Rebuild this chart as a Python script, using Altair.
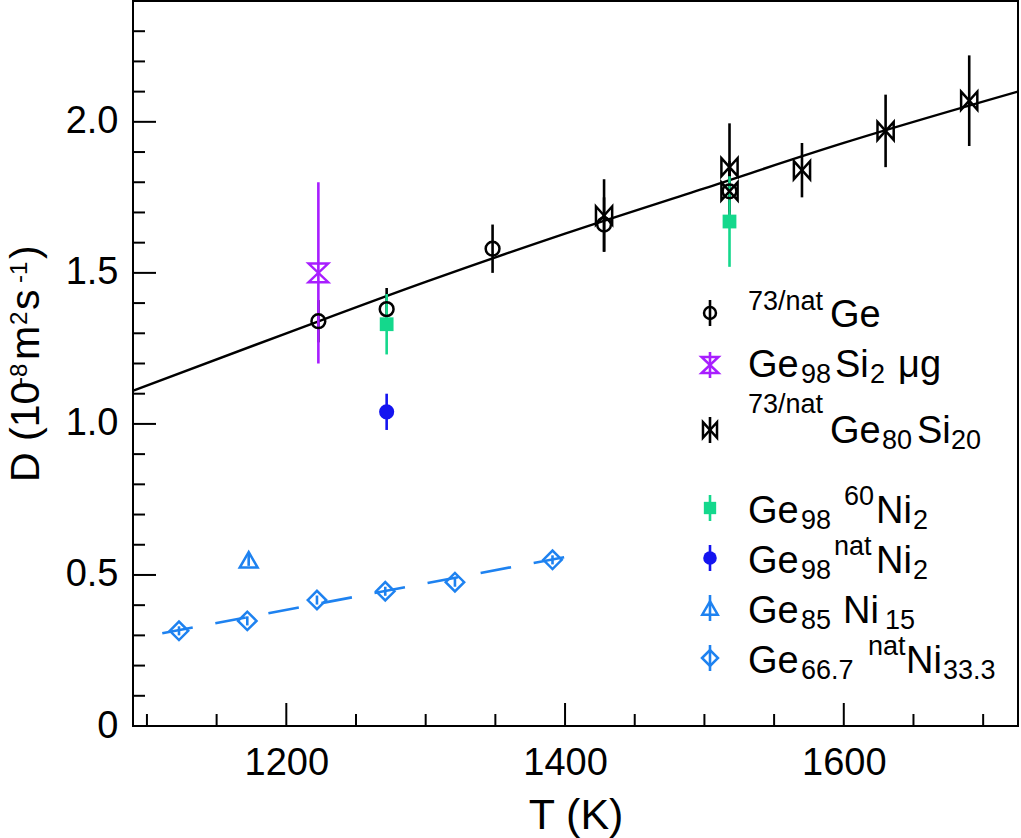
import altair as alt
import pandas as pd

FONT = "Liberation Sans"

# ---------------- data ----------------
ge_T = [1223, 1272, 1348, 1428, 1518]
ge_D = [1.34, 1.38, 1.58, 1.66, 1.77]
ge_err = [0.07, 0.07, 0.08, 0.09, 0.07]

gesi2_T = [1223]
gesi2_D = [1.50]
gesi2_err = [0.30]

gesi20_T = [1428, 1518, 1518, 1570, 1630, 1690]
gesi20_D = [1.69, 1.85, 1.77, 1.84, 1.97, 2.07]
gesi20_err = [0.12, 0.145, 0.10, 0.09, 0.12, 0.15]

ni60_T = [1272, 1518]
ni60_D = [1.33, 1.67]
ni60_err = [0.10, 0.15]

ninat_T = [1272]
ninat_D = [1.04]
ninat_err = [0.06]

ni15_T = [1173]
ni15_D = [0.55]
ni15_err = [0.02]

ni33_T = [1123, 1172, 1222, 1271, 1321, 1391]
ni33_D = [0.315, 0.348, 0.417, 0.446, 0.476, 0.55]
ni33_err = [0.015, 0.015, 0.015, 0.015, 0.015, 0.015]

fit_T = [1090, 1200, 1300, 1400, 1500, 1600, 1725]
fit_D = [1.11, 1.30, 1.47, 1.63, 1.78, 1.93, 2.10]

nifit_T = [1111, 1411]
nifit_D = [0.307, 0.569]

x_major = [1200, 1400, 1600]
x_minor = [1100, 1150, 1250, 1300, 1350, 1450, 1500, 1550, 1650, 1700]
y_major = [0.5, 1.0, 1.5, 2.0]
y_minor = [0.1, 0.2, 0.3, 0.4, 0.6, 0.7, 0.8, 0.9, 1.1, 1.2, 1.3, 1.4,
           1.6, 1.7, 1.8, 1.9, 2.1, 2.2, 2.3]
y_labels = [0, 0.5, 1.0, 1.5, 2.0]

# ---------------- styles ----------------
BLACK = "#000000"
PURPLE = "#A81EFF"
GREEN = "#14D88C"
BLUE = "#1414F0"
LBLUE = "#1E82F0"
HOURGLASS = "M-1,-0.95L1,-0.95L-1,0.95L1,0.95Z"
BOWTIE = "M-0.9,-1L0.9,1L0.9,-1L-0.9,1Z"

series = [
    ("ge", ge_T, ge_D, ge_err, "circle", BLACK, False, 190),
    ("gesi2", gesi2_T, gesi2_D, gesi2_err, HOURGLASS, PURPLE, False, 380),
    ("gesi20", gesi20_T, gesi20_D, gesi20_err, BOWTIE, BLACK, False, 324),
    ("ni60", ni60_T, ni60_D, ni60_err, "square", GREEN, True, 190),
    ("ninat", ninat_T, ninat_D, ninat_err, "circle", BLUE, True, 230),
    ("ni15", ni15_T, ni15_D, ni15_err, "triangle-up", LBLUE, False, 320),
    ("ni33", ni33_T, ni33_D, ni33_err, "diamond", LBLUE, False, 340),
]

W, H = 885, 725
L, T = 133, 1

xs = alt.Scale(domain=[1090, 1725], nice=False, zero=False)
ys = alt.Scale(domain=[0, 2.4], nice=False, zero=False)

xaxis = alt.Axis(values=x_major, format="d", labelFontSize=38, labelPadding=18,
                 ticks=False, domain=False, grid=False, labelFont=FONT,
                 titleFont=FONT, titleFontSize=43, titleFontWeight="normal",
                 titlePadding=12, labelColor="black", titleColor="black",
                 labelFlush=False)
yaxis = alt.Axis(values=y_labels,
                 labelExpr="datum.value == 0 ? '0' : format(datum.value, '.1f')",
                 labelFontSize=38, labelPadding=15, ticks=False, domain=False,
                 grid=False, labelFont=FONT, labelColor="black", labelFlush=False)


def X(f):
    return alt.X(f, type="quantitative", scale=xs, axis=xaxis, title="T (K)")


def Y(f):
    return alt.Y(f, type="quantitative", scale=ys, axis=yaxis, title=None)


layers = []

# inward ticks
layers.append(alt.Chart(pd.DataFrame({"v": x_major})).mark_rule(color="black", strokeWidth=2)
              .encode(x=X("v"), y=alt.value(H), y2=alt.value(H - 23)))
layers.append(alt.Chart(pd.DataFrame({"v": x_minor})).mark_rule(color="black", strokeWidth=2)
              .encode(x=X("v"), y=alt.value(H), y2=alt.value(H - 12)))
layers.append(alt.Chart(pd.DataFrame({"v": y_major})).mark_rule(color="black", strokeWidth=2)
              .encode(y=Y("v"), x=alt.value(0), x2=alt.value(23)))
layers.append(alt.Chart(pd.DataFrame({"v": y_minor})).mark_rule(color="black", strokeWidth=2)
              .encode(y=Y("v"), x=alt.value(0), x2=alt.value(12)))

# fit lines
layers.append(alt.Chart(pd.DataFrame({"T": fit_T, "D": fit_D}))
              .mark_line(color="black", strokeWidth=2.4, interpolate="monotone")
              .encode(x=X("T"), y=Y("D")))
layers.append(alt.Chart(pd.DataFrame({"T": nifit_T, "D": nifit_D}))
              .mark_line(color=LBLUE, strokeWidth=2.6, strokeDash=[31, 23])
              .encode(x=X("T"), y=Y("D")))

# error bars and points
for name, Ts, Ds, Es, shape, color, filled, size in series:
    df = pd.DataFrame({"T": Ts, "D": Ds, "E": Es})
    df["lo"] = df["D"] - df["E"]
    df["hi"] = df["D"] + df["E"]
    layers.append(alt.Chart(df).mark_rule(color=color, strokeWidth=2.6)
                  .encode(x=X("T"), y=Y("lo"), y2="hi"))
for name, Ts, Ds, Es, shape, color, filled, size in series:
    df = pd.DataFrame({"T": Ts, "D": Ds})
    if filled:
        mk = alt.Chart(df).mark_point(shape=shape, color=color, filled=True,
                                      size=size, opacity=1)
    else:
        mk = alt.Chart(df).mark_point(shape=shape, color=color, filled=False,
                                      size=size, strokeWidth=2.5, opacity=1)
    layers.append(mk.encode(x=X("T"), y=Y("D")))

# ---------------- legend ----------------
dummy = alt.Data(values=[{"k": 0}])
leg_y = [313, 365, 430, 508, 558, 608, 658]
leg_x = 710
for (name, Ts, Ds, Es, shape, color, filled, size), ly in zip(series, leg_y):
    layers.append(alt.Chart(dummy).mark_rule(color=color, strokeWidth=2.6)
                  .encode(x=alt.value(leg_x - L), y=alt.value(ly - T - 13),
                          y2=alt.value(ly - T + 13)))
    if filled:
        mk = alt.Chart(dummy).mark_point(shape=shape, color=color, filled=True,
                                         size=size * 0.8, opacity=1)
    else:
        mk = alt.Chart(dummy).mark_point(shape=shape, color=color, filled=False,
                                         size=size * 0.75, strokeWidth=2.5, opacity=1)
    layers.append(mk.encode(x=alt.value(leg_x - L), y=alt.value(ly - T)))

MAIN, SMALL = 38, 27
legend_segments = [
    ("73/nat", 748, 310, SMALL), ("Ge", 830, 327, MAIN),
    ("Ge", 748, 377, MAIN), ("98", 801, 383, SMALL), ("Si", 835, 377, MAIN),
    ("2", 870, 383, SMALL), ("\u03bcg", 898, 377, MAIN),
    ("73/nat", 748, 413, SMALL), ("Ge", 830, 443, MAIN), ("80", 882, 449, SMALL),
    ("Si", 917, 443, MAIN), ("20", 951, 449, SMALL),
    ("Ge", 748, 523, MAIN), ("98", 801, 529, SMALL), ("60", 844, 505, SMALL),
    ("Ni", 876, 523, MAIN), ("2", 913, 529, SMALL),
    ("Ge", 748, 573, MAIN), ("98", 801, 579, SMALL), ("nat", 834, 555, SMALL),
    ("Ni", 876, 573, MAIN), ("2", 913, 579, SMALL),
    ("Ge", 748, 623, MAIN), ("85", 801, 629, SMALL), ("Ni", 843, 623, MAIN),
    ("15", 885, 629, SMALL),
    ("Ge", 748, 673, MAIN), ("66.7", 801, 679, SMALL), ("nat", 868, 655, SMALL),
    ("Ni", 906, 673, MAIN), ("33.3", 943, 679, SMALL),
]
for s, x, y, size in legend_segments:
    layers.append(alt.Chart(dummy).mark_text(text=s, fontSize=size, font=FONT, align="left",
                                             baseline="alphabetic", color="black")
                  .encode(x=alt.value(x - L), y=alt.value(y - T)))

# y-axis title (rotated, with superscripts)
ytitle_segments = [
    ("D (10", 38.5, 482, 41), ("-8", 27, 385, 24), ("m", 38.5, 360, 41),
    ("2", 27, 325, 24), ("s", 38.5, 310, 41), ("-1", 27, 283, 24), (")", 38.5, 259, 41),
]
for s, x, y, size in ytitle_segments:
    layers.append(alt.Chart(dummy).mark_text(text=s, fontSize=size, font=FONT, align="left",
                                             baseline="alphabetic", color="black", angle=270)
                  .encode(x=alt.value(x - L), y=alt.value(y - T)))

chart = alt.layer(*layers).properties(
    width=W, height=H,
    autosize=alt.AutoSizeParams(type="none"),
    padding={"left": L, "top": T, "right": 1021 - L - W, "bottom": 838 - T - H},
    background="white",
).configure_view(stroke="black", strokeWidth=2)

chart.save("out.html", embed_options={"renderer": "svg", "actions": False})
